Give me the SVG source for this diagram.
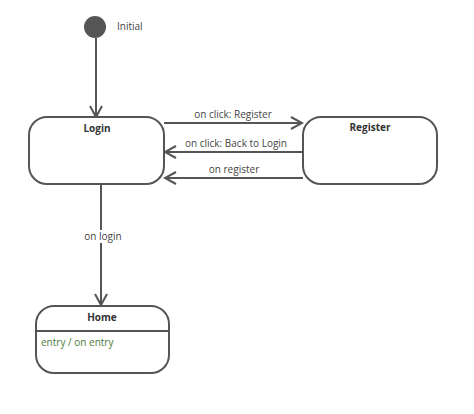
<svg xmlns="http://www.w3.org/2000/svg" width="474" height="414" viewBox="0 0 474 414">
<defs>
<marker id="arr" markerWidth="14" markerHeight="14" refX="12" refY="7" orient="auto" markerUnits="userSpaceOnUse">
<path d="M1,1 L12,7 L1,13" fill="none" stroke="#555" stroke-width="2"/>
</marker>
</defs>
<style>
.st{fill:#fff;stroke:#555;stroke-width:2}
.ln{fill:none;stroke:#555;stroke-width:2}
.t{font-family:"Open Sans","DejaVu Sans",sans-serif;font-size:10px;fill:#444}
.b{font-weight:bold;fill:#333}
.g{fill:#4a7a3a}
</style>
<rect width="474" height="414" fill="#fff"/>
<g id="connectors">
<line class="ln" x1="96" y1="38" x2="96" y2="117" marker-end="url(#arr)"/>
<line class="ln" x1="164" y1="123" x2="302" y2="123" marker-end="url(#arr)"/>
<line class="ln" x1="303" y1="152" x2="165" y2="152" marker-end="url(#arr)"/>
<line class="ln" x1="303" y1="178" x2="165" y2="178" marker-end="url(#arr)"/>
<line class="ln" x1="101" y1="184" x2="101" y2="305" marker-end="url(#arr)"/>
<text class="t" x="233" y="118" text-anchor="middle">on click: Register</text>
<text class="t" x="236" y="147" text-anchor="middle">on click: Back to Login</text>
<text class="t" x="234" y="173" text-anchor="middle">on register</text>
<rect x="80" y="230" width="46" height="13" fill="#fff"/>
<text class="t" x="103" y="240" text-anchor="middle">on login</text>
</g>
<g id="initial">
<circle cx="95" cy="27" r="11" fill="#555"/>
<text class="t" x="117" y="30">Initial</text>
</g>
<g id="login">
<rect class="st" x="29" y="117" width="135" height="67" rx="18"/>
<text class="t b" x="97" y="132" text-anchor="middle">Login</text>
</g>
<g id="register">
<rect class="st" x="303" y="117" width="134" height="67" rx="18"/>
<text class="t b" x="370" y="131" text-anchor="middle">Register</text>
</g>
<g id="home">
<rect class="st" x="36" y="306" width="133" height="67" rx="18"/>
<line class="ln" x1="36" y1="331" x2="169" y2="331"/>
<text class="t b" x="102" y="321" text-anchor="middle">Home</text>
<text class="t g" x="41" y="346">entry / on entry</text>
</g>
</svg>
